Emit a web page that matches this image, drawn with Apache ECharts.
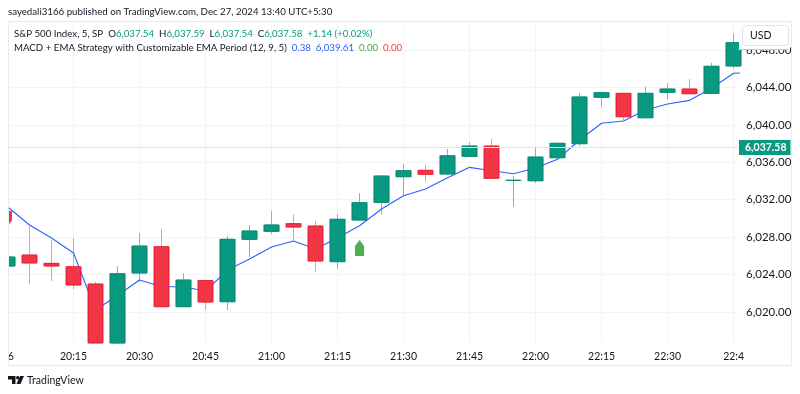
<!DOCTYPE html>
<html><head><meta charset="utf-8">
<script src="https://cdn.jsdelivr.net/npm/echarts@6/dist/echarts.min.js"></script>
<style>html,body{margin:0;padding:0;background:#fff}#c{width:800px;height:394px}</style></head>
<body><div id="c"></div>
<script>
const opens  = [6024.92,6026.09,6025.20,6024.84,6022.99,6016.69,6024.17,6026.98,6020.57,6023.37,6021.10,6027.77,6028.62,6029.44,6029.19,6025.38,6029.83,6031.72,6034.46,6035.14,6034.75,6036.64,6037.74,6034.06,6034.03,6036.49,6037.99,6042.95,6043.37,6040.76,6043.48,6043.83,6043.37,6046.29];
const closes = [6025.88,6025.24,6024.92,6022.89,6016.69,6024.09,6027.05,6020.57,6023.42,6021.07,6027.77,6028.66,6029.30,6029.08,6025.45,6029.91,6031.68,6034.53,6035.10,6034.72,6036.70,6037.74,6034.29,6034.08,6036.56,6038.03,6042.98,6043.44,6040.87,6043.37,6043.83,6043.33,6046.26,6048.78];
const lows   = [6024.92,6022.99,6023.31,6022.46,6016.69,6016.69,6023.24,6020.57,6020.57,6020.21,6020.21,6025.88,6028.34,6027.69,6024.31,6024.63,6029.83,6030.40,6032.43,6033.93,6034.64,6036.56,6034.29,6031.25,6033.79,6036.49,6037.77,6041.88,6040.41,6040.76,6042.73,6043.33,6043.30,6046.00];
const highs  = [6025.88,6029.19,6027.69,6027.91,6023.21,6024.92,6028.44,6028.87,6024.14,6023.47,6028.12,6029.30,6030.79,6030.44,6029.73,6030.47,6032.69,6034.64,6035.82,6035.71,6037.42,6038.17,6038.49,6034.57,6037.67,6038.03,6043.40,6043.51,6043.40,6044.08,6044.44,6044.90,6046.64,6049.78];
const emaValues = [6031.25,6029.30,6027.91,6026.31,6020.21,6021.76,6023.42,6022.73,6022.67,6022.24,6024.49,6025.66,6026.95,6027.59,6026.73,6027.91,6029.22,6031.01,6032.43,6033.14,6034.35,6035.46,6035.10,6034.78,6035.39,6036.32,6038.38,6040.17,6040.41,6041.59,6042.23,6042.62,6043.91,6045.51,6045.60];
const timeTicks = [3,6,9,12,15,18,21,24,27,30,33];
const timeLabels = ['20:15','20:30','20:45','21:00','21:15','21:30','21:45','22:00','22:15','22:30','22:4'];
const priceTicks = [6020,6024,6028,6032,6036,6040,6044,6048];
const lastPrice = 6037.58;
const buySignal = [[16,6026.84]];
const sellSignal = [[0,6029.99]];

const FONT = 'Lato', INK = '#131722', UP = '#089981', DOWN = '#f23645', FS = 9.7, AX = 11.5;
const fmt = v => v.toLocaleString('en-US',{minimumFractionDigits:2,maximumFractionDigits:2});
const candleData = opens.map((o,i)=>[i,o,closes[i],lows[i],highs[i]]);
const bodyData = opens.map((o,i)=>[i,o,closes[i],Math.min(o,closes[i]),Math.max(o,closes[i])]);
const lineData = emaValues.map((v,i)=>[i,v]);
const labelValues = [0.15].concat(timeTicks);
const labelText = ['6'].concat(timeLabels);

const chart = echarts.init(document.getElementById('c'),null,{renderer:'canvas'});
chart.setOption({
  animation:false,
  textStyle:{fontFamily:FONT},
  title:[
    {text:'sayedali3166 published on TradingView.com, Dec 27, 2024 13:40 UTC+5:30',left:8,top:7,padding:0,textStyle:{fontFamily:FONT,fontSize:FS,fontWeight:'normal',color:INK}},
    {text:'S&P 500 Index, 5, SP  O{g|6,037.54}  H{g|6,037.59}  L{g|6,037.54}  C{g|6,037.58}  {g|+1.14 (+0.02%)}',left:14,top:29,padding:0,
     textStyle:{fontFamily:FONT,fontSize:FS,fontWeight:'normal',color:INK,rich:{g:{fontFamily:FONT,fontSize:FS,color:UP}}}},
    {text:'MACD + EMA Strategy with Customizable EMA Period (12, 9, 5)  {b|0.38}  {b|6,039.61}  {c|0.00}  {r|0.00}',left:14,top:43,padding:0,
     textStyle:{fontFamily:FONT,fontSize:FS,fontWeight:'normal',color:INK,rich:{b:{fontFamily:FONT,fontSize:FS,color:'#2962ff'},c:{fontFamily:FONT,fontSize:FS,color:'#43a047'},r:{fontFamily:FONT,fontSize:FS,color:DOWN}}}}
  ],
  grid:{left:0,top:21,width:738,height:322,containLabel:false},
  xAxis:{type:'value',min:-0.341,max:33.2,
    axisLine:{show:false},
    axisTick:{show:false,customValues:timeTicks},
    splitLine:{show:true,lineStyle:{color:'#f2f4f7',width:1}},
    axisLabel:{customValues:labelValues,color:INK,fontFamily:FONT,fontSize:10.5,margin:8,hideOverlap:false,
      formatter:v=>labelText[labelValues.indexOf(v)]||''}
  },
  yAxis:{type:'value',position:'right',min:6016.69,max:6051.10,scale:true,
    axisLine:{show:false},
    axisTick:{show:false,customValues:priceTicks},
    splitLine:{show:true,lineStyle:{color:'#f2f4f7',width:1}},
    axisLabel:{customValues:priceTicks,color:INK,fontFamily:FONT,fontSize:AX,margin:8,formatter:v=>fmt(v)}
  },
  series:[
    {type:'candlestick',name:'S&P 500',data:candleData,encode:{x:0,y:[1,2,3,4]},barWidth:16,z:2,
      itemStyle:{color:UP,color0:DOWN,borderColor:'#6fc2b1',borderColor0:'#f8959d',borderWidth:1},
      markLine:{silent:true,symbol:'none',animation:false,
        lineStyle:{color:'#cfeae4',type:'solid',width:1},
        label:{position:'end',formatter:()=>fmt(lastPrice),backgroundColor:UP,color:'#fff',fontFamily:FONT,fontSize:10.5,fontWeight:'bold',padding:[2,4,2,6],distance:1},
        data:[{yAxis:lastPrice}]}
    },
    {type:'line',name:'EMA',data:lineData,showSymbol:false,symbol:'none',z:3,clip:true,lineStyle:{color:'#2962ff',width:1.1}},
    {type:'candlestick',name:'Bodies',data:bodyData,encode:{x:0,y:[1,2,3,4]},barWidth:15,z:4,
      itemStyle:{color:UP,color0:DOWN,borderColor:'#0a8a74',borderColor0:'#e8233a',borderWidth:1}},
    {type:'scatter',name:'Buy',data:buySignal,symbol:'path://M5 0 L10 6 L10 16 L0 16 L0 6 Z',symbolSize:[9,16],z:5,clip:true,itemStyle:{color:'#4caf50',opacity:1}},
    {type:'scatter',name:'Sell',data:sellSignal,symbol:'path://M0 0 L10 0 L10 10 L5 16 L0 10 Z',symbolSize:[9,15],z:5,clip:true,itemStyle:{color:DOWN,opacity:1}}
  ],
  graphic:[
    {type:'rect',z:40,silent:true,shape:{x:0,y:0,width:8,height:394},style:{fill:'#fff'}},
    {type:'rect',z:41,silent:true,shape:{x:8.5,y:21.5,width:783,height:344},style:{fill:'none',stroke:'#e8eaef',lineWidth:1}},
    {type:'rect',z:49,silent:true,shape:{x:739,y:24,width:51,height:25},style:{fill:'#fff'}},
    {type:'line',z:50,silent:true,shape:{x1:738,y1:49.5,x2:788,y2:49.5},style:{stroke:'#a3d8cd',lineWidth:1}},
    {type:'rect',z:60,silent:true,shape:{x:742.5,y:25.5,width:46,height:20,r:3},style:{fill:'#fff',stroke:'#e0e3eb',lineWidth:1}},
    {type:'text',z:61,silent:true,style:{x:750,y:35.5,text:'USD',fill:INK,font:'10.5px Lato',verticalAlign:'middle'}},
    {type:'polygon',z:10,silent:true,shape:{points:[[8,376],[15.5,376],[15.5,384],[12,384],[12,379.5],[8,379.5]]},style:{fill:INK}},
    {type:'polygon',z:10,silent:true,shape:{points:[[20,376],[24,376],[20.5,384],[16.5,384]]},style:{fill:INK}},
    {type:'circle',z:10,silent:true,shape:{cx:17.7,cy:377.8,r:1.7},style:{fill:INK}},
    {type:'text',z:10,silent:true,style:{x:27,y:380.5,text:'TradingView',fill:INK,font:'10.5px Lato',verticalAlign:'middle'}}
  ]
});
</script></body></html>
